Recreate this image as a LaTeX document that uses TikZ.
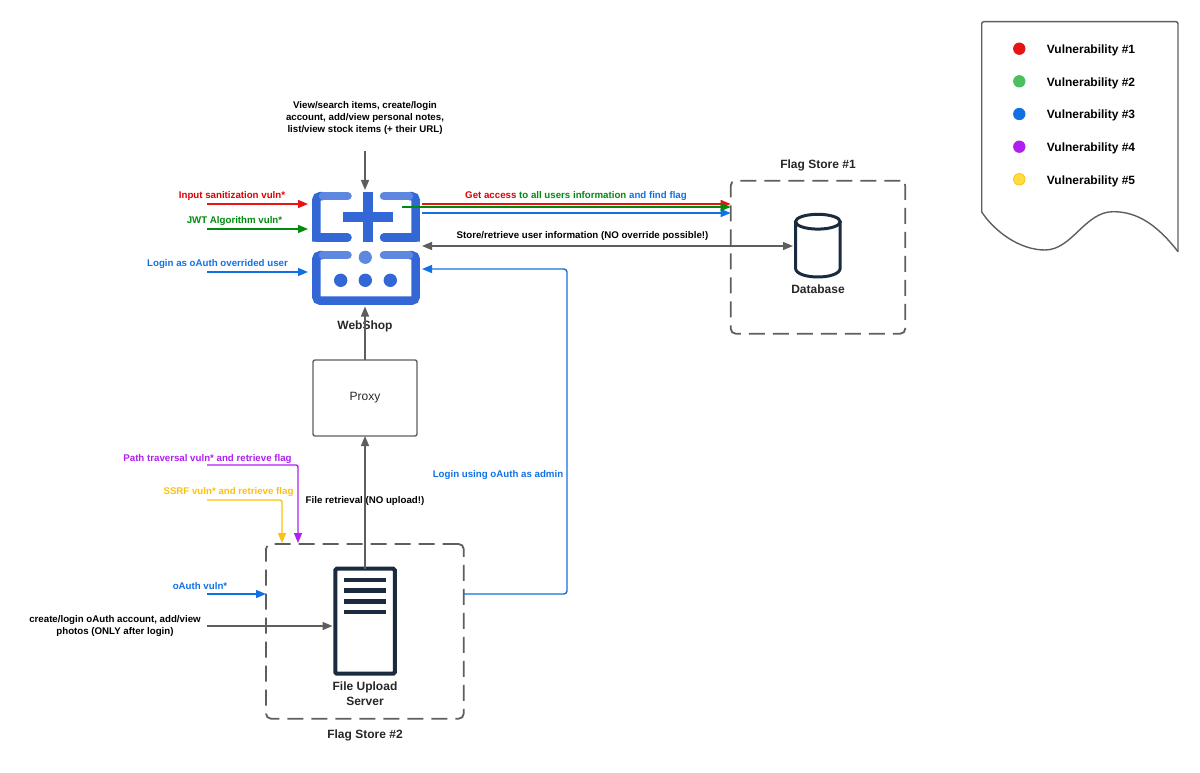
\documentclass[tikz,border=0pt]{standalone}
\usepackage{fontspec}
\setmainfont{Liberation Sans}
\usetikzlibrary{arrows.meta}
\definecolor{cred}{HTML}{E81313}
\definecolor{tred}{HTML}{DD0000}
\definecolor{cgreen}{HTML}{008A0E}
\definecolor{cblue}{HTML}{1071E5}
\definecolor{cpurple}{HTML}{B01FF0}
\definecolor{cyellow}{HTML}{FCC00F}
\definecolor{dgreen}{HTML}{4DBF5F}
\definecolor{dyellow}{HTML}{FFDD40}
\definecolor{cgrey}{HTML}{5E5E5E}
\definecolor{navy}{HTML}{1B2B3F}
\definecolor{gblue}{HTML}{3367D6}
\definecolor{gblue2}{HTML}{5E87DF}
\tikzset{
  x=1pt,y=-1pt,
  lab/.style={font=\fontsize{9.7pt}{12pt}\selectfont\bfseries,align=center,inner sep=0pt,text=black,yshift=-0.8pt},
  title/.style={font=\fontsize{12pt}{15pt}\selectfont\bfseries,align=center,inner sep=0pt,text=black!85,yshift=-1.7pt},
  conn/.style={line width=1.4pt,-{Triangle[length=10pt,width=8pt]}},
  greyc/.style={conn,draw=cgrey,{Triangle[length=10pt,width=8pt,fill=cgrey]}-{Triangle[length=10pt,width=8pt,fill=cgrey]}},
  greyo/.style={conn,draw=cgrey,-{Triangle[length=10pt,width=8pt,fill=cgrey]}},
  store/.style={draw=cgrey,line width=1.8pt,rounded corners=5pt,dash pattern=on 16pt off 8pt,inner sep=0pt,outer sep=0pt,anchor=north west},
  hole/.style={inner sep=0pt,outer sep=0pt,anchor=north west},
  bar/.style={draw=gblue,line width=8.5pt},
  tab/.style={draw=gblue2,line width=8.5pt,line cap=round},
  dot/.style={circle,inner sep=0pt,outer sep=0pt,minimum size=11.5pt,line width=0.8pt},
}
\begin{document}
\begin{tikzpicture}
\useasboundingbox (0,0) rectangle (1200,773);

% containers
\node[store,minimum width=174.6pt,minimum height=153pt] (fs1) at (730.7,180.7) {};
\node[store,minimum width=197.7pt,minimum height=174.7pt] (fs2) at (266,544) {};
\node[hole,draw=cgrey,line width=1.4pt,rounded corners=2pt,minimum width=104pt,minimum height=76pt] (proxy) at (313,360) {};
\node[font=\fontsize{12pt}{14pt}\selectfont,inner sep=0pt,text=black!85] (proxylab) at (proxy.center) {Proxy};

% WebShop icon, upper part
\node[hole,minimum width=108pt,minimum height=49.7pt] (shopU) at (312,192) {};
\node[hole,minimum width=108pt,minimum height=54pt] (shopL) at (312,251) {};
\draw[bar,rounded corners=4pt] (316.3,241.7) -- (316.3,196.2) -- (323,196.2);
\draw[bar,rounded corners=4pt] (415.7,241.7) -- (415.7,196.2) -- (409,196.2);
\draw[tab] (323,196.2) -- (347.5,196.2);
\draw[tab] (384,196.2) -- (409,196.2);
\draw[bar,line cap=round] (316.3,237.5) -- (347.5,237.5);
\draw[bar,line cap=round] (384,237.5) -- (415.7,237.5);
\fill[gblue] (363,192) rectangle (373,241.7);
\fill[gblue] (343,212) rectangle (393,222);
% WebShop icon, lower part
\draw[bar,rounded corners=4pt] (323,255.2) -- (316.3,255.2) -- (316.3,300.7) -- (415.7,300.7) -- (415.7,255.2) -- (409,255.2);
\draw[tab] (323,255.2) -- (347.5,255.2);
\draw[tab] (384,255.2) -- (409,255.2);
\fill[gblue2] (365.3,257.3) circle (6.6);
\fill[gblue] (340.7,280.3) circle (6.7);
\fill[gblue] (365.3,280.3) circle (6.7);
\fill[gblue] (390.3,280.3) circle (6.7);
\node[title] (shoplab) at (365,325) {WebShop};

% database
\node[hole,minimum width=47.7pt,minimum height=64pt] (db) at (794,213.5) {};
\draw[navy,line width=3pt,line join=round] (795.5,221.7) -- (795.5,268) .. controls (795.5,280) and (840.2,280) .. (840.2,268) -- (840.2,221.7);
\draw[navy,line width=3pt] (817.85,221.7) ellipse (22.35 and 7.4);
\node[title] (dblab) at (818,288) {Database};
\node[title] (fs1lab) at (818,164) {Flag Store \#1};

% server
\node[draw=navy,line width=4pt,rounded corners=1.5pt,inner sep=0pt,outer sep=0pt,minimum width=59.5pt,minimum height=105pt] (server) at (365,621.2) {};
\foreach \yy in {579.7,590.5,601.3,612}
  \fill[navy] (344,\yy-2.2) rectangle (386,\yy+2.2);
\node[title,font=\fontsize{12pt}{14.6pt}\selectfont\bfseries] (srvlab) at (365,692.2) {File Upload\\Server};
\node[title] (fs2lab) at (365,734) {Flag Store \#2};

% free ends
\coordinate (topS) at (365,151);
\coordinate (topE) at (365,190);
\coordinate (inS) at (207,204);   \coordinate (inE) at (308,204);
\coordinate (jwS) at (207,229);   \coordinate (jwE) at (308,229);
\coordinate (loS) at (207,272);   \coordinate (loE) at (308,272);
\coordinate (reS) at (422,204);   \coordinate (reE) at (730.7,204);
\coordinate (grS) at (402,207);   \coordinate (grE) at (730.7,207);
\coordinate (blS) at (422,213);   \coordinate (blE) at (730.7,213);
\coordinate (stS) at (422,246);   \coordinate (stE) at (793,246);
\coordinate (adS) at (463.7,594); \coordinate (adM) at (567,594); \coordinate (adN) at (567,269); \coordinate (adE) at (422,269);
\coordinate (paS) at (207,465);   \coordinate (paM) at (298,465); \coordinate (paE) at (298,543);
\coordinate (ssS) at (207,500);   \coordinate (ssM) at (282,500); \coordinate (ssE) at (282,543);
\coordinate (oaS) at (207,594);   \coordinate (oaE) at (266,594);
\coordinate (crS) at (207,626);   \coordinate (crE) at (332.5,626);
\coordinate (shopS) at (365,306.5);

% connectors
\draw[greyo] (topS) -- (topE);
\draw[greyo] (proxy.north) -- (shopS);
\draw[greyo] (server.north) -- (proxy.south);
\draw[greyo] (crS) -- (crE);
\draw[greyc] (stS) -- (stE);
\draw[conn,cred] (inS) -- (inE);
\draw[conn,cgreen] (jwS) -- (jwE);
\draw[conn,cblue] (loS) -- (loE);
\draw[conn,cred] (reS) -- (reE);
\draw[conn,cblue] (blS) -- (blE);
\draw[conn,cgreen] (grS) -- (grE);
\draw[conn,cblue,rounded corners=3pt] (adS) -- (adM) -- (adN) -- (adE);
\draw[conn,cpurple,rounded corners=2pt] (paS) -- (paM) -- (paE);
\draw[conn,cyellow,rounded corners=2pt] (ssS) -- (ssM) -- (ssE);
\draw[conn,cblue] (oaS) -- (oaE);

% labels
\node[lab] (ltop) at (365,117) {View/search items, create/login\\account, add/view personal notes,\\list/view stock items (+ their URL)};
\node[lab,text=tred] (lin) at (232,195) {Input sanitization vuln*};
\node[lab,text=cgreen] (ljw) at (234.5,220) {JWT Algorithm vuln*};
\node[lab,text=cblue] (llo) at (217.5,263) {Login as oAuth overrided user};
\node[lab] (lget) at (576,195) {\textcolor{tred}{Get access} \textcolor{cgreen}{to all users information} \textcolor{cblue}{and find flag}};
\node[lab] (lst) at (582.5,235) {Store/retrieve user information (NO override possible!)};
\node[lab,text=cblue] (lad) at (498,474) {Login using oAuth as admin};
\node[lab] (lfi) at (365,500) {File retrieval (NO upload!)};
\node[lab,text=cpurple] (lpa) at (207.5,458) {Path traversal vuln* and retrieve flag};
\node[lab,text=cyellow] (lss) at (228.5,491) {SSRF vuln* and retrieve flag};
\node[lab,text=cblue] (loa) at (200,585) {oAuth vuln*};
\node[lab] (lcr) at (115,625) {create/login oAuth account, add/view\\photos (ONLY after login)};

% legend
\draw[cgrey,line width=1.4pt,line join=round,rounded corners=2pt] (981.7,212) -- (981.7,21.7) -- (1178,21.7) -- (1178,251.7);
\draw[cgrey,line width=1.4pt,line join=round] (1178,251.7) .. controls (1155,222) and (1135,211.7) .. (1113,211.7) .. controls (1085,211.7) and (1072,250) .. (1045,250) .. controls (1020,250) and (995,232) .. (981.7,212);
\node[dot,fill=cred,draw=cred] (d1) at (1019.3,48.7) {};
\node[dot,fill=dgreen,draw=dgreen] (d2) at (1019.3,81.3) {};
\node[dot,fill=cblue,draw=cblue] (d3) at (1019.3,114) {};
\node[dot,fill=cpurple,draw=cpurple] (d4) at (1019.3,146.7) {};
\node[dot,fill=dyellow,draw=cyellow] (d5) at (1019.3,179.3) {};
\foreach \nn/\yy in {1/48.7,2/81.3,3/114,4/146.7,5/179.3}
  \node[title,text=black,anchor=west] (v\nn) at (1046.7,\yy) {Vulnerability \#\nn};
\end{tikzpicture}
\end{document}
